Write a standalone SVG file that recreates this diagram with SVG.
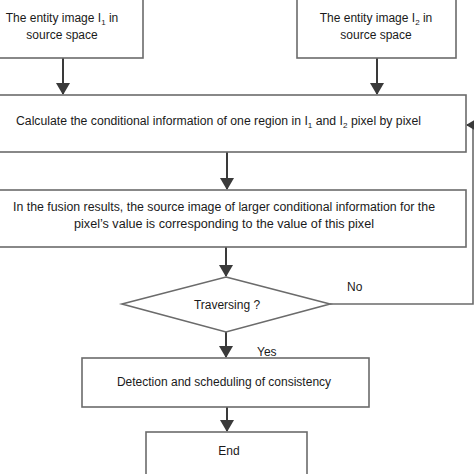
<svg xmlns="http://www.w3.org/2000/svg" width="474" height="474" viewBox="0 0 474 474">
<style>
.box{fill:#fff;stroke:#6b6b6b;stroke-width:1.6}
.t{font-family:"Liberation Sans",Arial,sans-serif;font-size:12px;fill:#1a1a1a}
.c{text-anchor:middle}
.sub{font-size:8px}
.ln{fill:none;stroke:#3a3a3a;stroke-width:2}
.ln2{fill:none;stroke:#6b6b6b;stroke-width:1.6}
</style>
<defs>
<marker id="ah" markerWidth="6" markerHeight="7" refX="5.5" refY="3.5" orient="auto" markerUnits="strokeWidth">
<path d="M0,0 L6,3.5 L0,7 z" fill="#3a3a3a"/>
</marker>
</defs>
<rect width="474" height="474" fill="#fff"/>
<g id="connectors">
<line class="ln" x1="63" y1="58" x2="63" y2="94" marker-end="url(#ah)"/>
<line class="ln" x1="377" y1="58" x2="377" y2="94" marker-end="url(#ah)"/>
<line class="ln" x1="227" y1="152" x2="227" y2="189" marker-end="url(#ah)"/>
<line class="ln" x1="226" y1="247" x2="226" y2="276" marker-end="url(#ah)"/>
<line class="ln" x1="226" y1="332" x2="226" y2="357" marker-end="url(#ah)"/>
<line class="ln" x1="227" y1="407" x2="227" y2="431" marker-end="url(#ah)"/>
<path class="ln2" d="M330,304 H473 V125"/>
<line class="ln" x1="474" y1="125" x2="467" y2="125" marker-end="url(#ah)"/>
<text class="t" x="347" y="291">No</text>
<text class="t" x="257" y="356">Yes</text>
</g>
<g id="n1">
<rect class="box" x="-17" y="-2" width="160" height="60"/>
<text class="t c" x="62" y="22">The entity image I<tspan class="sub" dy="3">1</tspan><tspan dy="-3"> in</tspan></text>
<text class="t c" x="62" y="39">source space</text>
</g>
<g id="n2">
<rect class="box" x="297" y="-2" width="159" height="60"/>
<text class="t c" x="376" y="22">The entity image I<tspan class="sub" dy="3">2</tspan><tspan dy="-3"> in</tspan></text>
<text class="t c" x="376" y="39">source space</text>
</g>
<g id="n3">
<rect class="box" x="-10" y="95" width="476" height="57"/>
<text class="t" x="16" y="125" textLength="405" lengthAdjust="spacingAndGlyphs">Calculate the conditional information of one region in I<tspan class="sub" dy="3">1</tspan><tspan dy="-3"> and I</tspan><tspan class="sub" dy="3">2</tspan><tspan dy="-3"> pixel by pixel</tspan></text>
</g>
<g id="n4">
<rect class="box" x="-10" y="190" width="476" height="57"/>
<text class="t c" x="224" y="211" textLength="422" lengthAdjust="spacingAndGlyphs">In the fusion results, the source image of larger conditional information for the</text>
<text class="t c" x="224" y="228" textLength="300" lengthAdjust="spacingAndGlyphs">pixel’s value is corresponding to the value of this pixel</text>
</g>
<g id="n5">
<polygon class="box" points="226,277 330,304 226,332 122,304"/>
<text class="t c" x="227" y="309">Traversing ?</text>
</g>
<g id="n6">
<rect class="box" x="82" y="358" width="287" height="49"/>
<text class="t c" x="224" y="386">Detection and scheduling of consistency</text>
</g>
<g id="n7">
<rect class="box" x="146" y="432" width="161" height="50"/>
<text class="t c" x="229" y="455">End</text>
</g>
</svg>
